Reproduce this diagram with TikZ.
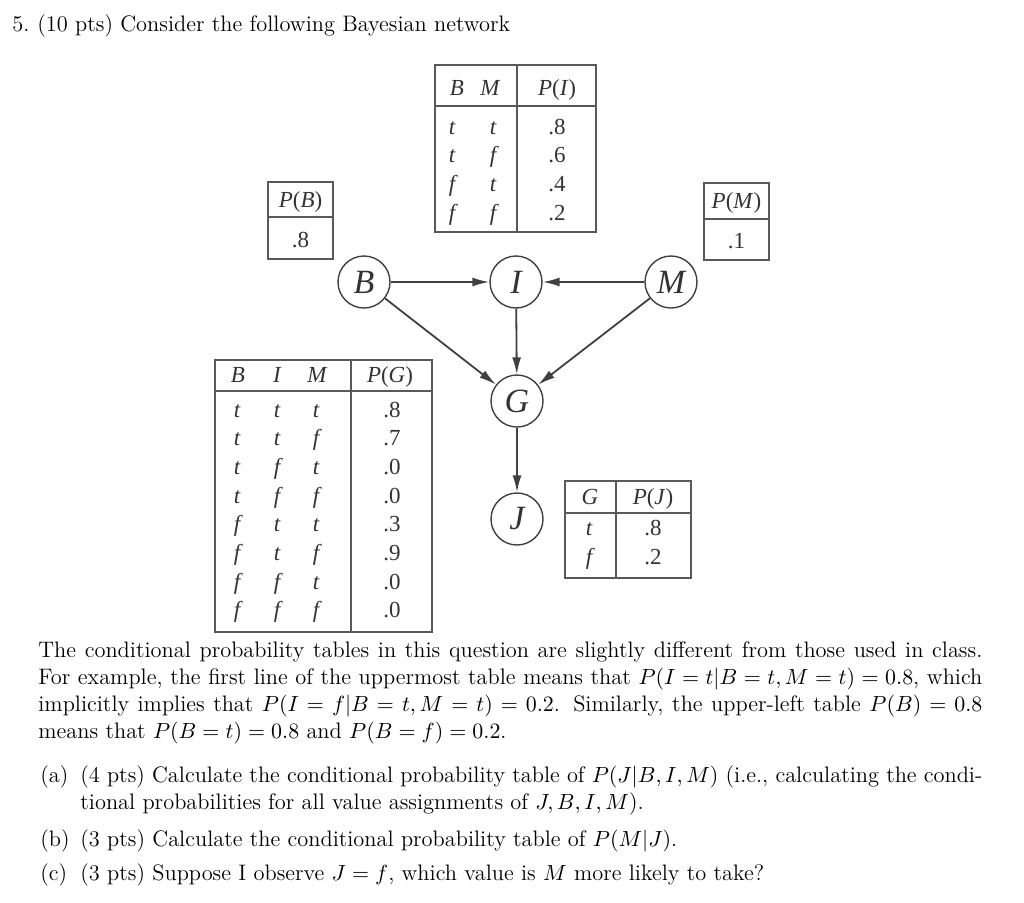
\documentclass[tikz,border=0pt]{standalone}
\usepackage{fontspec}
\newfontfamily\cptfont{Liberation Serif}
\usetikzlibrary{arrows.meta}
\definecolor{EdgeClr}{rgb}{0.25,0.25,0.25}
\definecolor{TableClr}{rgb}{0.35,0.35,0.35}
\definecolor{CellClr}{rgb}{0.2,0.2,0.2}

\begin{document}
\begin{tikzpicture}[x=0.5pt,y=-0.5pt,
  bnode/.style={circle,draw=EdgeClr,line width=0.7pt,minimum size=26pt,inner sep=0pt,text=CellClr,
    font=\cptfont\itshape\fontsize{17}{17}\selectfont},
  edge/.style={draw=EdgeClr,line width=0.9pt,-{Latex[length=8.5pt,width=4.5pt]}},
  tabline/.style={draw=TableClr,line width=0.9pt},
  cell/.style={anchor=base,inner sep=0pt,text=CellClr,font=\cptfont\fontsize{11.5}{11.5}\selectfont},
  var/.style={cell,font=\cptfont\itshape\fontsize{11.5}{11.5}\selectfont},
  body/.style={anchor=base west,inner sep=0pt,font=\fontsize{11.2}{13.5}\selectfont}]
\useasboundingbox (0,0) rectangle (1024,902);

% question head
\node[body] (num) at (12,31) {5.};
\node[body] (head) at (37,31) {(10 pts) Consider the following Bayesian network};

% network
\node[bnode] (B) at (364,282) {B};
\node[bnode] (I) at (516,282) {I};
\node[bnode] (M) at (671,282) {M};
\node[bnode] (G) at (517,401) {G};
\node[bnode] (J) at (517,519) {J};

\draw[edge] (B) -- (I);
\draw[edge] (M) -- (I);
\draw[edge] (B) -- (G);
\draw[edge] (I) -- (G);
\draw[edge] (M) -- (G);
\draw[edge] (G) -- (J);

% P(B)
\draw[tabline] (268,182) rectangle (333,259) (268,217) -- (333,217);
\node[cell] (pB) at (300.5,207) {\textit{P}(\textit{B})};
\node[cell] (pBv) at (300.5,247) {.8};

% P(M)
\draw[tabline] (704,183) rectangle (769,260) (704,219) -- (769,219);
\node[cell] (pM) at (736.5,208) {\textit{P}(\textit{M})};
\node[cell] (pMv) at (736.5,248) {.1};

% P(I | B, M)
\draw[tabline] (435,65) rectangle (596,232) (435,106) -- (596,106) (517,65) -- (517,232);
\node[var] (iB) at (457,95) {B};
\node[var] (iM) at (490,95) {M};
\node[cell] (iP) at (557,95) {\textit{P}(\textit{I})};
\foreach \vb/\vm/\vp [count=\k from 0] in {t/t/.8,t/f/.6,f/t/.4,f/f/.2}{
  \node[var] (iB\k) at (452,{134+28.7*\k}) {\vb};
  \node[var] (iM\k) at (493,{134+28.7*\k}) {\vm};
  \node[cell] (iP\k) at (557,{134+28.7*\k}) {\vp};
}

% P(G | B, I, M)
\draw[tabline] (215,360) rectangle (432,632) (215,391) -- (432,391) (351,360) -- (351,632);
\node[var] (gB) at (238,382) {B};
\node[var] (gI) at (277,382) {I};
\node[var] (gM) at (317,382) {M};
\node[cell] (gP) at (390,382) {\textit{P}(\textit{G})};
\foreach \vb/\vi/\vm/\vp [count=\k from 0] in
  {t/t/t/.8,t/t/f/.7,t/f/t/.0,t/f/f/.0,f/t/t/.3,f/t/f/.9,f/f/t/.0,f/f/f/.0}{
  \node[var] (gB\k) at (237,{417+28.7*\k}) {\vb};
  \node[var] (gI\k) at (277,{417+28.7*\k}) {\vi};
  \node[var] (gM\k) at (316,{417+28.7*\k}) {\vm};
  \node[cell] (gP\k) at (392,{417+28.7*\k}) {\vp};
}

% P(J | G)
\draw[tabline] (565,481) rectangle (691,578) (565,513) -- (691,513) (616,481) -- (616,578);
\node[var] (jG) at (590,504) {G};
\node[cell] (jP) at (653,504) {\textit{P}(\textit{J})};
\node[var] (jG0) at (589,535) {t};
\node[cell] (jP0) at (653,535) {.8};
\node[var] (jG1) at (589,564) {f};
\node[cell] (jP1) at (653,564) {.2};

% text below
\node[body,text width=472pt,align=justify] (para) at (38,657)
  {The conditional probability tables in this question are slightly different from those used in class.\linebreak
   For example, the first line of the uppermost table means that $P(I=t|B=t,M=t)=0.8$, which\linebreak
   implicitly implies that $P(I=f|B=t,M=t)=0.2$. Similarly, the upper-left table $P(B)=0.8$\linebreak
   means that $P(B=t)=0.8$ and $P(B=f)=0.2$.};

\node[body] (la) at (40,782) {(a)};
\node[body,text width=451pt,align=justify] (qa) at (80,782)
  {(4 pts) Calculate the conditional probability table of $P(J|B,I,M)$ (i.e., calculating the condi-\linebreak
   tional probabilities for all value assignments of $J,B,I,M$).};
\node[body] (lb) at (40,846) {(b)};
\node[body] (qb) at (80,846) {(3 pts) Calculate the conditional probability table of $P(M|J)$.};
\node[body] (lc) at (40,880) {(c)};
\node[body] (qc) at (80,880) {(3 pts) Suppose I observe $J=f$, which value is $M$ more likely to take?};
\end{tikzpicture}
\end{document}
